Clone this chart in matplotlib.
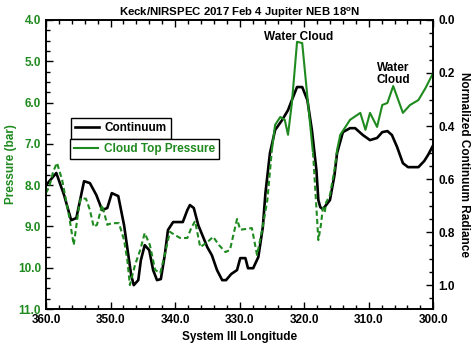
"""
Keck/NIRSPEC Jupiter NEB scan: continuum radiance and cloud top pressure
"""
import matplotlib
matplotlib.use("Agg")
import matplotlib.pyplot as plt
from matplotlib.patches import Rectangle
from matplotlib.ticker import MultipleLocator, FormatStrFormatter
import numpy as np

plt.rcParams["font.family"] = ["Liberation Sans", "DejaVu Sans"]
plt.rcParams["font.weight"] = "bold"
plt.rcParams["mathtext.fontset"] = "custom"
plt.rcParams["mathtext.bf"] = "Liberation Sans:bold"
plt.rcParams["mathtext.rm"] = "Liberation Sans:bold"

green = "#1f8a1f"

# Continuum (normalized radiance, right axis)
cont_lon = [360.0, 358.4, 357.2, 356.1, 355.3, 354.1, 353.2, 352.2, 351.3, 350.5,
            349.8, 348.8, 347.9, 346.8, 346.4, 345.7, 345.3, 344.7, 344.0, 343.4,
            342.8, 342.2, 341.6, 341.1, 340.3, 339.5, 338.8, 338.1, 337.7, 337.1,
            336.4, 335.0, 334.3, 333.5, 332.7, 332.1, 331.3, 330.4, 329.9, 329.1,
            328.7, 327.9, 327.1, 326.4, 326.0, 325.3, 324.5, 323.4, 322.5, 321.9,
            321.1, 320.3, 319.5, 318.8, 318.1, 317.8, 317.5, 317.1, 316.6, 316.0,
            315.3, 314.9, 314.0, 312.9, 312.1, 310.9, 309.8, 308.7, 307.9, 307.1,
            306.4, 305.6, 304.7, 303.9, 303.3, 302.3, 301.4, 300.8, 300.0]
cont_rad = [0.623, 0.577, 0.660, 0.755, 0.747, 0.608, 0.615, 0.660, 0.717, 0.709,
            0.653, 0.664, 0.774, 0.962, 1.000, 0.981, 0.906, 0.849, 0.868, 0.943,
            0.981, 0.977, 0.887, 0.792, 0.762, 0.762, 0.762, 0.717, 0.698, 0.709,
            0.774, 0.857, 0.887, 0.943, 0.981, 0.981, 0.958, 0.943, 0.898, 0.898,
            0.936, 0.936, 0.894, 0.781, 0.653, 0.502, 0.415, 0.377, 0.340, 0.302,
            0.253, 0.253, 0.302, 0.415, 0.566, 0.679, 0.706, 0.713, 0.698, 0.679,
            0.585, 0.502, 0.423, 0.408, 0.408, 0.434, 0.453, 0.445, 0.423, 0.419,
            0.434, 0.479, 0.540, 0.555, 0.555, 0.555, 0.532, 0.509, 0.472]

# Cloud top pressure (bar, left axis)
ctp_lon = [360.0, 359.5, 358.9, 358.3, 357.5, 356.4, 355.7, 354.9, 354.6, 353.8,
           353.2, 352.6, 352.1, 351.3, 350.5, 349.8, 348.7, 347.9, 347.4, 347.0,
           346.2, 345.4, 344.7, 343.9, 343.1, 342.3, 341.6, 340.8, 340.0, 339.2,
           338.1, 337.5, 336.9, 336.1, 335.0, 334.1, 333.2, 332.2, 331.5, 330.4,
           329.9, 329.0, 328.1, 327.3, 326.5, 325.7, 325.0, 324.5, 323.7, 323.0,
           322.5, 321.9, 321.1, 320.3, 319.5, 318.6, 317.8, 317.4, 317.1, 316.8,
           316.6, 316.0, 315.3, 314.9, 314.4, 313.6, 312.9, 311.3, 310.5, 309.8,
           308.7, 307.9, 307.1, 306.2, 304.7, 303.6, 302.3, 301.2, 300.0]
ctp_bar = [8.19, 8.04, 7.68, 7.46, 7.87, 8.77, 9.45, 8.53, 8.31, 8.33,
           8.60, 9.01, 8.96, 8.48, 8.96, 8.92, 8.92, 9.33, 9.81, 10.42,
           9.93, 9.57, 9.16, 9.45, 10.05, 10.13, 9.69, 9.13, 9.21, 9.28,
           9.28, 9.04, 8.87, 9.50, 9.38, 9.25, 9.45, 9.62, 9.57, 8.82,
           9.08, 9.06, 9.04, 9.69, 9.08, 8.36, 7.15, 6.54, 6.35, 6.42,
           6.78, 6.01, 4.53, 4.56, 5.86, 7.27, 9.33, 8.96, 8.55, 8.65,
           8.42, 8.24, 7.63, 7.15, 6.78, 6.59, 6.42, 6.25, 6.66, 6.25,
           6.59, 6.06, 6.01, 5.60, 6.25, 6.06, 5.94, 5.65, 5.28]

fig = plt.figure(figsize=(4.74, 3.5), dpi=100)
ax = fig.add_axes([0.097, 0.117, 0.817, 0.826])
ax2 = ax.twinx()

# black continuum on the right axis
(l_cont,) = ax2.plot(cont_lon, cont_rad, color="black", lw=1.9)
ax2.set_ylim(1.09, 0.0)

# cloud top pressure: solid where shallow, dashed where deep
split = 7.2
solid_clip = Rectangle((300, 4.0), 60, split - 4.0, transform=ax.transData)
dash_clip = Rectangle((300, split), 60, 11.0 - split, transform=ax.transData)
(l_ctp,) = ax.plot(ctp_lon, ctp_bar, color=green, lw=1.5)
l_ctp.set_clip_path(solid_clip)
(l_dash,) = ax.plot(ctp_lon, ctp_bar, color=green, lw=1.5, ls=(0, (2.5, 1.5)))
l_dash.set_clip_path(dash_clip)

ax.set_xlim(360, 300)
ax.set_ylim(11.0, 4.0)
ax.set_zorder(ax2.get_zorder() + 1)
ax.patch.set_visible(False)

fs = 8.5
ax.xaxis.set_major_locator(MultipleLocator(10))
ax.xaxis.set_minor_locator(MultipleLocator(2))
ax.xaxis.set_major_formatter(FormatStrFormatter("%.1f"))
ax.yaxis.set_major_locator(MultipleLocator(1))
ax.yaxis.set_minor_locator(MultipleLocator(0.25))
ax.yaxis.set_major_formatter(FormatStrFormatter("%.1f"))
ax2.yaxis.set_major_locator(MultipleLocator(0.2))
ax2.yaxis.set_minor_locator(MultipleLocator(0.05))
ax2.yaxis.set_major_formatter(FormatStrFormatter("%.1f"))

ax.tick_params(axis="both", which="both", direction="in", top=True, labelsize=fs)
ax.tick_params(which="major", length=5, width=1)
ax.tick_params(which="minor", length=3, width=1)
ax.tick_params(axis="y", labelcolor=green)
ax2.tick_params(axis="y", which="both", direction="in", labelsize=fs)
ax2.tick_params(which="major", length=5, width=1)
ax2.tick_params(which="minor", length=3, width=1)
for a in (ax, ax2):
    for s in a.spines.values():
        s.set_linewidth(1.2)

ax.set_xlabel("System III Longitude", fontsize=fs, fontweight="bold")
ax.set_ylabel("Pressure (bar)", fontsize=fs, fontweight="bold", color=green,
              labelpad=1)
ax2.set_ylabel("Normalized Continuum Radiance", fontsize=fs, fontweight="bold",
               rotation=270, labelpad=11)
ax.set_title(r"Keck/NIRSPEC 2017 Feb 4 Jupiter NEB 18$^{\mathbf{o}}$N",
             fontsize=8.2, fontweight="bold", pad=3)

ax.text(320.8, 4.42, "Water Cloud", fontsize=fs, fontweight="bold",
        ha="center", va="center")
ax.text(306.2, 5.3, "Water\nCloud", fontsize=fs, fontweight="bold",
        ha="center", va="center", linespacing=1.0)

# two separate legend boxes
leg1 = ax.legend([l_cont], ["Continuum"], loc="upper left",
                 bbox_to_anchor=(0.065, 0.66), fontsize=fs, fancybox=False,
                 edgecolor="black", framealpha=1, handlelength=2.0,
                 borderpad=0.35, handletextpad=0.5, borderaxespad=0)
leg1.get_frame().set_linewidth(1.0)
ax.add_artist(leg1)
leg2 = ax.legend([l_ctp], ["Cloud Top Pressure"], loc="upper left",
                 bbox_to_anchor=(0.062, 0.588), fontsize=fs, fancybox=False,
                 edgecolor="black", framealpha=1, handlelength=2.0,
                 borderpad=0.35, handletextpad=0.5, borderaxespad=0,
                 labelcolor=green)
leg2.get_frame().set_linewidth(1.0)

plt.savefig("out.png", dpi=100)
plt.close()
